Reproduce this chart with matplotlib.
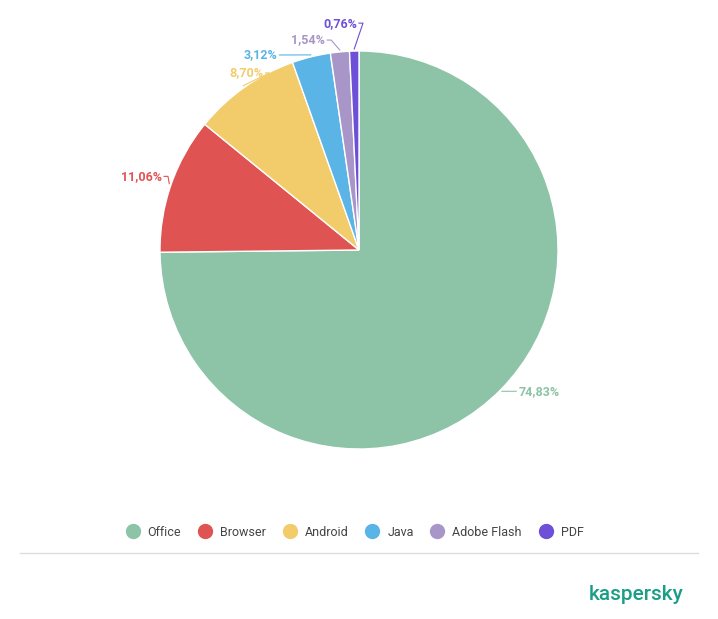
import matplotlib.pyplot as plt
from matplotlib.lines import Line2D
import numpy as np

labels = ["Office", "Browser", "Android", "Java", "Adobe Flash", "PDF"]
values = [74.83, 11.06, 8.70, 3.12, 1.54, 0.76]
colors = ["#8dc3a7", "#e05353", "#f2cc6b", "#5ab4e5", "#a896c8", "#6e4fd8"]
value_text = ["74,83%", "11,06%", "8,70%", "3,12%", "1,54%", "0,76%"]

fig = plt.figure(figsize=(7.18, 6.19), dpi=100)
plt.rcParams['font.family'] = ['Roboto', 'DejaVu Sans']
ax = fig.add_axes([160/718, 170/619, 398/718, 398/619])
wedges, _ = ax.pie(values, colors=colors, startangle=90, counterclock=False,
                   wedgeprops=dict(edgecolor="white", linewidth=1))
ax.set_xlim(-1, 1); ax.set_ylim(-1, 1)

# label positions (data coords) and alignment
text_pos = [(0.80, -0.71, "left"), (-0.99, 0.37, "right"), (-0.48, 0.89, "right"),
            (-0.41, 0.98, "right"), (-0.17, 1.055, "right"), (-0.01, 1.14, "right")]
for w, t, (tx, ty, ha), c in zip(wedges, value_text, text_pos, colors):
    a = np.deg2rad((w.theta1 + w.theta2) / 2)
    ex, ey = 1.01 * np.cos(a), 1.01 * np.sin(a)
    ax.text(tx, ty, t, ha=ha, va="center", fontsize=9, color=c,
            fontweight="bold", clip_on=False)
    sx = tx + (0.01 if ha == "right" else -0.01)
    ax.plot([ex, sx + (0.02 if ha == "right" else -0.02), sx], [ey, ty, ty],
            color=c, lw=0.8, clip_on=False)

handles = [Line2D([], [], marker="o", ls="", markersize=10, color=c) for c in colors]
fig.legend(handles, labels, loc="center", bbox_to_anchor=(0.49, 1 - 532/619), ncol=6,
           frameon=False, fontsize=9, handletextpad=0.2, columnspacing=0.9,
           labelcolor="#444444")
fig.add_artist(Line2D([20/718, 698/718], [1 - 553/619] * 2, color="#dddddd", lw=1))
fig.text(683/718, 1 - 595/619, "kaspersky", ha="right", va="center",
         fontsize=15, color="#1a9e85", fontweight="medium")
fig.savefig("out.png", dpi=100)
